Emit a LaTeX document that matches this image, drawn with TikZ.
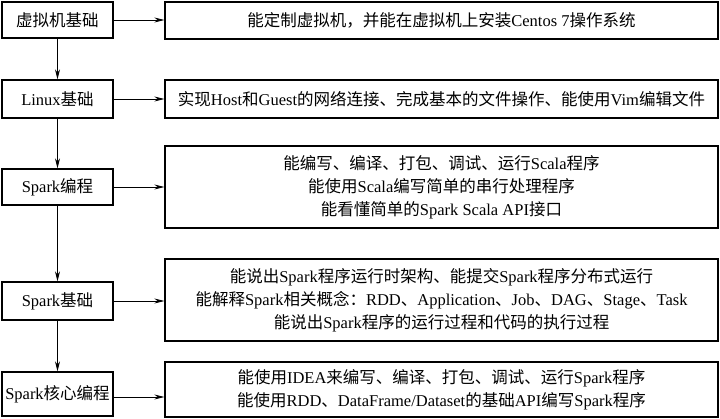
\documentclass[tikz,border=0pt]{standalone}
\usepackage{fontspec}
\setmainfont{Noto Sans CJK SC}
\newfontfamily\en{Liberation Serif}
\usetikzlibrary{arrows.meta}
\tikzset {>={Stealth[length=10pt,width=5pt]}}
\tikzset{
  stage/.style={draw,line width=1.3pt,minimum width=111pt,inner sep=1pt},
  goal/.style={draw,line width=1.3pt,minimum width=553pt,align=center,inner sep=1pt},
  link/.style={->,line width=0.8pt},
}

\begin{document}
\begin{tikzpicture}[x=1pt,y=-1pt,font=\fontsize{16.5}{23}\selectfont]
\useasboundingbox (0,0) rectangle (720,419);
% stages on the left
\node[stage,minimum height=36pt] (vm) at (57.5,20) {虚拟机基础};
\node[stage,minimum height=38pt] (linux) at (57.5,99) {{\en Linux}基础};
\node[stage,minimum height=36pt] (prog) at (57.5,187) {{\en Spark}编程};
\node[stage,minimum height=38pt] (basic) at (57.5,301) {{\en Spark}基础};
\node[stage,minimum height=44pt] (core) at (57.5,394) {{\en Spark}核心编程};
% goals on the right
\node[goal,minimum height=37pt] (vmgoal) at (441.5,20.5) {能定制虚拟机，并能在虚拟机上安装{\en Centos 7}操作系统};
\node[goal,minimum height=38pt] (linuxgoal) at (441.5,99) {实现{\en Host}和{\en Guest}的网络连接、完成基本的文件操作、能使用{\en Vim}编辑文件};
\node[goal,minimum height=82pt] (proggoal) at (441.5,187) {能编写、编译、打包、调试、运行{\en Scala}程序\\能使用{\en Scala}编写简单的串行处理程序\\能看懂简单的{\en Spark Scala API}接口};
\node[goal,minimum height=82pt] (basicgoal) at (441.5,300) {能说出{\en Spark}程序运行时架构、能提交{\en Spark}程序分布式运行\\能解释{\en Spark}相关概念：{\en RDD}、{\en Application}、{\en Job}、{\en DAG}、{\en Stage}、{\en Task}\\能说出{\en Spark}程序的运行过程和代码的执行过程};
\node[goal,minimum height=55pt] (coregoal) at (441.5,389.5) {能使用{\en IDEA}来编写、编译、打包、调试、运行{\en Spark}程序\\能使用{\en RDD}、{\en DataFrame/Dataset}的基础{\en API}编写{\en Spark}程序};
% arrows
\draw[link] (vm) -- (linux);
\draw[link] (linux) -- (prog);
\draw[link] (prog) -- (basic);
\draw[link] (basic) -- (core);
\draw[link] (vm.east) -- (vm.east -| vmgoal.west);
\draw[link] (linux.east) -- (linux.east -| linuxgoal.west);
\draw[link] (prog.east) -- (prog.east -| proggoal.west);
\draw[link] (basic.east) -- (basic.east -| basicgoal.west);
\draw[link] ([yshift=-3pt]core.east) -- ([yshift=-3pt]core.east -| coregoal.west);
\end{tikzpicture}
\end{document}
